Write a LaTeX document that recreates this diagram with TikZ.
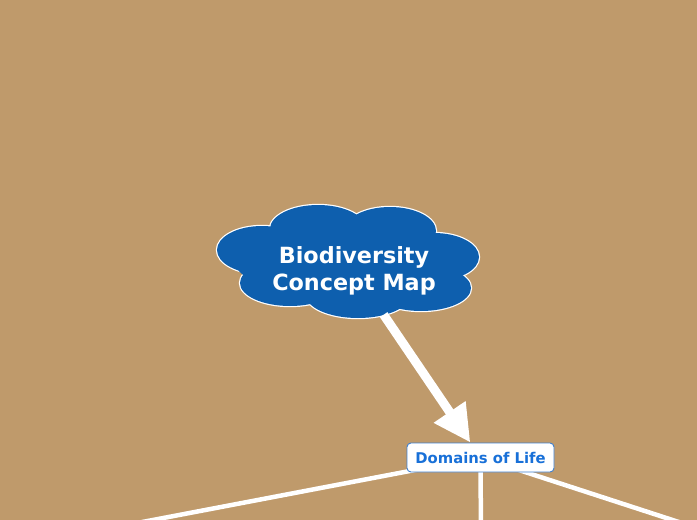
\documentclass[tikz,border=0pt]{standalone}
\usepackage{fontspec}
\setmainfont{DejaVu Sans}
\usetikzlibrary{arrows.meta,shapes.geometric,backgrounds}
\definecolor{bgc}{HTML}{BF9A6B}
\definecolor{cloudc}{HTML}{0E5FAE}
\definecolor{domborder}{HTML}{3F80D0}
\definecolor{domtext}{HTML}{1870D8}
\tikzset{
  puff/.style={draw=white,line width=2.4pt},
  puffin/.style={fill=cloudc},
  mainarrow/.style={draw=white,line width=9pt,-{Triangle[length=37pt,width=36pt]}},
  branch/.style={draw=white,line width=4.5pt},
  domnode/.style={draw=domborder,fill=white,rounded corners=4pt,line width=0.9pt,
    minimum width=147pt,minimum height=29pt,inner sep=0pt,
    font=\fontsize{14.8pt}{16pt}\selectfont\bfseries,text=domtext},
  cloudtext/.style={ellipse,minimum width=200pt,minimum height=90pt,inner sep=0pt,
    align=center,text=white,font=\fontsize{22.3pt}{27pt}\selectfont\bfseries}
}
\begin{document}
\begin{tikzpicture}[x=1pt,y=-1pt]
\useasboundingbox (0,0) rectangle (697,520);
\begin{pgfonlayer}{background}
\fill[bgc] (0,0) rectangle (697,520);
\end{pgfonlayer}
% cloud outline
\foreach \cx/\cy/\rx/\ry in {262/250/45/24, 318/229/48/24, 390/231/46/24, 434/257/45/24, 421/288/50/23, 358/295/52/23, 290/283/50/23}
  \draw[puff] (\cx,\cy) ellipse [x radius=\rx, y radius=\ry];
\foreach \cx/\cy/\rx/\ry in {262/250/45/24, 318/229/48/24, 390/231/46/24, 434/257/45/24, 421/288/50/23, 358/295/52/23, 290/283/50/23}
  \fill[puffin] (\cx,\cy) ellipse [x radius=\rx, y radius=\ry];
\fill[cloudc] (350,262) ellipse [x radius=115, y radius=35];
\node[cloudtext] (cloud) at (354,271) {Biodiversity\\ Concept Map};
\node[domnode] (dom) at (480.5,457.5) {Domains of Life};
\coordinate (c1) at (48,540);
\coordinate (c2) at (481,540);
\coordinate (c3) at (734,540);
\begin{pgfonlayer}{background}
\draw[branch] (dom.center) -- (c1);
\draw[branch] (dom.center) -- (c2);
\draw[branch] (dom.center) -- (c3);
\end{pgfonlayer}
\draw[mainarrow] (cloud) -- (dom);
\end{tikzpicture}
\end{document}
